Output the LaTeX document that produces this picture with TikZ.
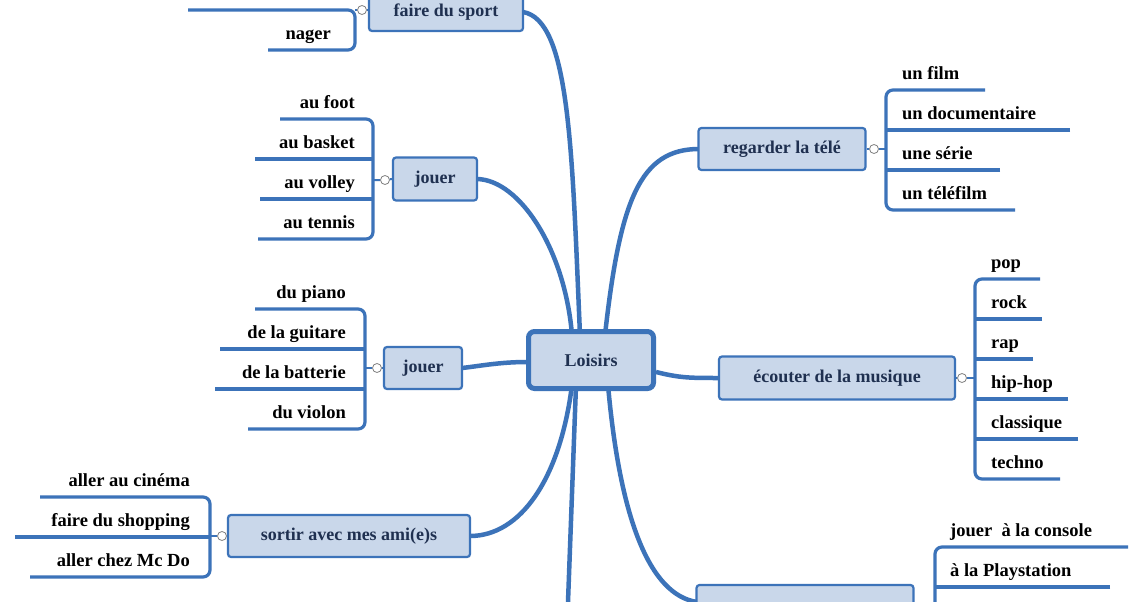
\documentclass[tikz,border=0pt]{standalone}
\usepackage{fontspec}
\setmainfont{Liberation Serif}
\begin{document}
\begin{tikzpicture}[x=1pt,y=-1pt,
  link/.style={draw=lnk,line width=4.5pt},
  leafline/.style={draw=lnk,line width=3.2pt,rounded corners=7pt},
  topic/.style={draw=lnk,line width=2.2pt,fill=boxf,rounded corners=3pt,font=\bfseries\fontsize{18}{20}\selectfont,text=txt,inner sep=0pt},
  leaf/.style={font=\bfseries\fontsize{18.5}{20}\selectfont,inner sep=1pt},
  knob/.style={circle,draw=gray,fill=white,line width=0.8pt,minimum size=9pt,inner sep=0pt}]
\definecolor{lnk}{HTML}{3C73B9}
\definecolor{boxf}{HTML}{C9D7EA}
\definecolor{txt}{HTML}{1F3050}
\useasboundingbox[fill=white] (0,0) rectangle (1146,602);
% main connectors
\coordinate (down) at (568,602);
\draw[link] (580,335) .. controls (572,150) and (570,20) .. (523,12);
\draw[link] (572,335) .. controls (565,250) and (520,180) .. (477,179);
\draw[link] (605,335) .. controls (620,200) and (640,149) .. (699,149);
\draw[link] (527,362) .. controls (500,362) and (480,366) .. (462,368);
\draw[link] (656,372) .. controls (680,378) and (690,378) .. (719,378);
\draw[link] (572,385) .. controls (560,480) and (520,536) .. (470,536);
\draw[link] (576,385) -- (down);
\draw[link] (608,385) .. controls (620,520) and (650,595) .. (697,602);
% nodes
\node[topic,line width=5pt,rounded corners=6pt,minimum width=125pt,minimum height=57pt] (L) at (591,360) {Loisirs};
\node[topic,minimum width=154pt,minimum height=38pt] (sport) at (446,12) {faire du sport};
\node[topic,minimum width=84pt,minimum height=43pt] (j1) at (435,179) {jouer};
\node[topic,minimum width=78pt,minimum height=42pt] (j2) at (423,368) {jouer};
\node[topic,minimum width=242pt,minimum height=42pt] (sortir) at (349,536) {sortir avec mes ami(e)s};
\node[topic,minimum width=167pt,minimum height=42pt] (tele) at (782,149) {regarder la télé};
\node[topic,minimum width=236pt,minimum height=43pt] (mus) at (837,378) {écouter de la musique};
\node[topic,minimum width=217pt,minimum height=40pt] (jeux) at (805,605) {};
% sport group
\node[knob] (k1) at (362,10) {};
\draw[leafline] (188,10) -- (355,10) -- (355,50) -- (268,50);
\draw[link,line width=2pt] (355,10) -- (k1) -- (sport.west |- k1);
\node[leaf,anchor=base east] at (332,40) {nager};
% jouer sport
\node[knob] (k2) at (385,180) {};
\draw[leafline] (280,119) -- (373,119) -- (373,239) -- (258,239);
\draw[leafline] (255,159) -- (373,159);
\draw[leafline] (260,199) -- (373,199);
\draw[link,line width=2pt] (373,180) -- (k2) -- (j1.west);
\node[leaf,anchor=base east] at (356,108) {au foot};
\node[leaf,anchor=base east] at (356,148) {au basket};
\node[leaf,anchor=base east] at (356,188) {au volley};
\node[leaf,anchor=base east] at (356,228) {au tennis};
% jouer music
\node[knob] (k3) at (377,368) {};
\draw[leafline] (255,309) -- (365,309) -- (365,429) -- (248,429);
\draw[leafline] (220,349) -- (365,349);
\draw[leafline] (215,389) -- (365,389);
\draw[link,line width=2pt] (365,368) -- (k3) -- (j2.west);
\node[leaf,anchor=base east] at (347,298) {du piano};
\node[leaf,anchor=base east] at (347,338) {de la guitare};
\node[leaf,anchor=base east] at (347,378) {de la batterie};
\node[leaf,anchor=base east] at (347,418) {du violon};
% sortir
\node[knob] (k4) at (222,536) {};
\draw[leafline] (40,497) -- (210,497) -- (210,577) -- (30,577);
\draw[leafline] (15,537) -- (210,537);
\draw[link,line width=2pt] (210,536) -- (k4) -- (sortir.west);
\node[leaf,anchor=base east] at (191,486) {aller au cinéma};
\node[leaf,anchor=base east] at (191,526) {faire du shopping};
\node[leaf,anchor=base east] at (191,566) {aller chez Mc Do};
% tele
\node[knob] (k5) at (874,149) {};
\draw[leafline] (985,90) -- (886,90) -- (886,210) -- (1015,210);
\draw[leafline] (1070,130) -- (886,130);
\draw[leafline] (1000,170) -- (886,170);
\draw[link,line width=2pt] (tele.east) -- (k5) -- (886,149);
\node[leaf,anchor=base west] at (901,79) {un film};
\node[leaf,anchor=base west] at (901,119) {un documentaire};
\node[leaf,anchor=base west] at (901,159) {une série};
\node[leaf,anchor=base west] at (901,199) {un téléfilm};
% musique
\node[knob] (k6) at (962,378) {};
\draw[leafline] (1040,279) -- (975,279) -- (975,479) -- (1060,479);
\draw[leafline] (1042,319) -- (975,319);
\draw[leafline] (1033,359) -- (975,359);
\draw[leafline] (1068,399) -- (975,399);
\draw[leafline] (1078,439) -- (975,439);
\draw[link,line width=2pt] (mus.east) -- (k6) -- (975,378);
\node[leaf,anchor=base west] at (990,268) {pop};
\node[leaf,anchor=base west] at (990,308) {rock};
\node[leaf,anchor=base west] at (990,348) {rap};
\node[leaf,anchor=base west] at (990,388) {hip-hop};
\node[leaf,anchor=base west] at (990,428) {classique};
\node[leaf,anchor=base west] at (990,468) {techno};
% jeux
\draw[leafline] (1128,547) -- (935,547) -- (935,620);
\draw[leafline] (1110,587) -- (935,587);
\node[leaf,anchor=base west] at (949,536) {jouer\ \ à la console};
\node[leaf,anchor=base west] at (949,576) {à la Playstation};
\end{tikzpicture}
\end{document}
